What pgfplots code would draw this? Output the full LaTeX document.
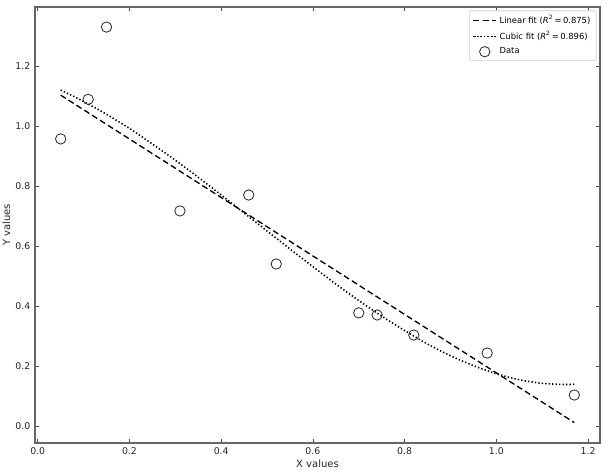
\documentclass[border=0pt]{standalone}
\usepackage{pgfplots}
\pgfplotsset{compat=1.18}
\usepackage{fontspec}
\setmainfont{DejaVu Sans}
\begin{document}
\begin{tikzpicture}
\begin{axis}[
    width=423.75pt, height=327pt,
    scale only axis,
    xmin=-0.006, xmax=1.226,
    ymin=-0.057, ymax=1.397,
    xtick={0,0.2,...,1.2},
    ytick={0,0.2,...,1.2},
    xticklabel style={/pgf/number format/.cd,fixed,fixed zerofill,precision=1},
    yticklabel style={/pgf/number format/.cd,fixed,fixed zerofill,precision=1},
    /pgf/number format/assume math mode=true,
    tick align=inside,
    major tick length=3pt,
    tick style={black!70, line width=0.6pt},
    axis line style={black!60, line width=0.9pt},
    ticklabel style={font=\fontsize{7}{8}\selectfont, text=black!85},
    label style={font=\fontsize{7.5}{9}\selectfont, text=black!85},
    xlabel={X values},
    ylabel={Y values},
    xlabel style={yshift=3pt},
    ylabel style={yshift=-3pt},
    legend cell align=left,
    legend style={at={(0.994,0.992)}, anchor=north east,
        draw=black!20, rounded corners=1.5pt,
        font=\fontsize{6.3}{8}\selectfont,
        row sep=0.8pt, inner xsep=2.5pt, inner ysep=1.5pt},
]
\addplot[black, line width=1pt, dash pattern=on 4.5pt off 2.5pt] coordinates {
    (0.05,1.103) (1.17,0.011)
};
\addlegendentry{Linear fit (\textit{R}\textsuperscript{2}\,=\,0.875)}
\addplot[black, line width=1.2pt, dash pattern=on 1pt off 1.6pt, smooth] coordinates {
    (0.05,1.120) (0.10,1.082) (0.15,1.039) (0.20,0.992) (0.25,0.940)
    (0.30,0.886) (0.35,0.829) (0.40,0.770) (0.45,0.710) (0.50,0.650)
    (0.55,0.590) (0.60,0.531) (0.65,0.473) (0.70,0.418) (0.75,0.366)
    (0.80,0.318) (0.85,0.273) (0.90,0.234) (0.95,0.201) (1.00,0.174)
    (1.05,0.154) (1.10,0.142) (1.15,0.138) (1.17,0.139)
};
\addlegendentry{Cubic fit (\textit{R}\textsuperscript{2}\,=\,0.896)}
\addplot[only marks, mark=o, mark size=3.9pt, black!85, mark options={line width=0.6pt, fill=none}] coordinates {
    (0.05,0.957) (0.11,1.089) (0.15,1.330) (0.31,0.717) (0.46,0.770)
    (0.52,0.540) (0.70,0.377) (0.74,0.370) (0.82,0.303) (0.98,0.243)
    (1.17,0.103)
};
\addlegendentry{Data}
\end{axis}
\pgfresetboundingbox
\path ([shift={(-26.25pt,-23.25pt)}]current axis.south west)
    rectangle ([shift={(6pt,5.25pt)}]current axis.north east);
\end{tikzpicture}
\end{document}
